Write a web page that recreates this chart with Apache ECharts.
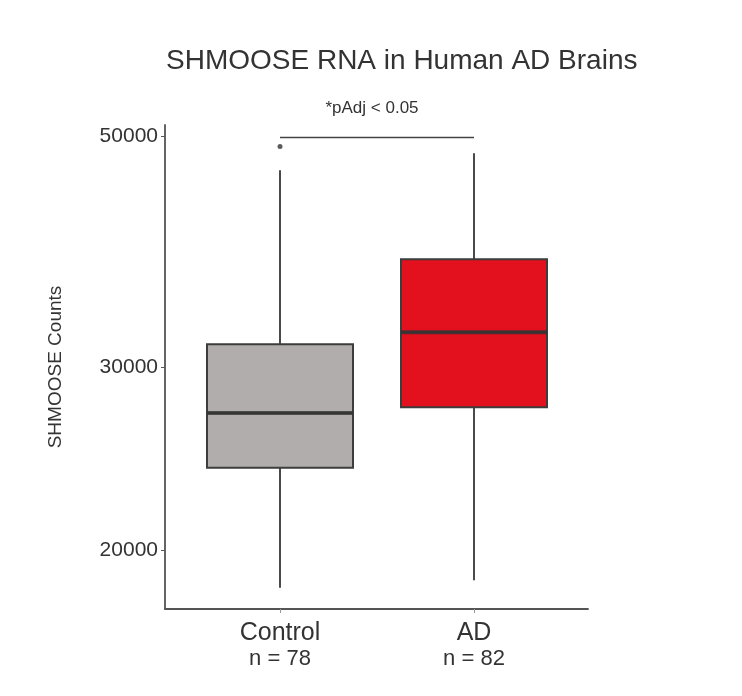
<!DOCTYPE html>
<html>
<head>
<meta charset="utf-8">
<script src="https://cdn.jsdelivr.net/npm/echarts@6/dist/echarts.min.js"></script>
<style>
html,body{margin:0;padding:0;background:#fff;}
#chart{width:742px;height:696px;}
</style>
</head>
<body>
<div id="chart"></div>
<script>
// ---- data ----
var categories = ['Control', 'AD'];
var groupSizes = [78, 82];
// [lower whisker, Q1, median, Q3, upper whisker]
var controlBox = [18400, 24000, 27100, 31550, 46400];
var adBox = [18700, 27450, 32400, 38100, 48200];
var outliers = [['Control', 48900]];
var yTicks = [20000, 30000, 50000];
var yRange = [17550, 51300];
var bracketLevel = 49900;
var sigText = '*pAdj < 0.05';
var boxColors = ['#b0adac', '#e2111d'];

var FONT = 'Liberation Sans, Arial, Helvetica, sans-serif';
var chart = echarts.init(document.getElementById('chart'), null, {renderer: 'canvas'});

var boxes = [controlBox, adBox];
var medians = boxes.map(function (b) { return b[2]; });

var option = {
  backgroundColor: '#ffffff',
  animation: false,
  title: {
    text: 'SHMOOSE RNA in Human AD Brains',
    left: 161, top: 42,
    textStyle: {fontFamily: FONT, fontSize: 28, fontWeight: 'normal', color: '#333333'}
  },
  graphic: [{
    type: 'text', x: 372, y: 108,
    style: {text: sigText, font: '17px ' + FONT, fill: '#333333', align: 'center', verticalAlign: 'middle'}
  }],
  grid: [
    {left: 165, right: 154, top: 125, bottom: 87, containLabel: false},
    {left: 183, right: 171, top: 125, bottom: 87, containLabel: false}
  ],
  xAxis: [
    {
      gridIndex: 0, type: 'value', min: 0.4, max: 2.6,
      axisLine: {show: true, lineStyle: {color: '#555555', width: 1.8}},
      axisTick: {show: false}, axisLabel: {show: false}, splitLine: {show: false}
    },
    {
      gridIndex: 1, type: 'category', data: categories,
      axisLine: {show: false},
      axisTick: {show: true, alignWithLabel: true, length: 4, lineStyle: {color: '#999'}},
      axisLabel: {
        margin: 11,
        formatter: function (v, i) { return '{a|' + v + '}\n{b|n = ' + groupSizes[i] + '}'; },
        rich: {
          a: {fontFamily: FONT, fontSize: 25, color: '#333333', lineHeight: 26},
          b: {fontFamily: FONT, fontSize: 22, color: '#333333', lineHeight: 25}
        }
      },
      splitLine: {show: false}
    }
  ],
  yAxis: [
    {
      gridIndex: 0, type: 'log', logBase: 10, min: yRange[0], max: yRange[1],
      name: 'SHMOOSE Counts', nameLocation: 'middle', nameGap: 100, nameRotate: 90,
      nameTextStyle: {fontFamily: FONT, fontSize: 19, color: '#333333'},
      axisLine: {show: true, lineStyle: {color: '#555555', width: 1.8}},
      axisTick: {show: true, length: 4, customValues: yTicks, lineStyle: {color: '#555555'}},
      axisLabel: {
        customValues: yTicks, margin: 7,
        fontFamily: FONT, fontSize: 21, color: '#333333',
        formatter: function (v) { return String(Math.round(v)); }
      },
      splitLine: {show: false}
    },
    {
      gridIndex: 1, type: 'log', logBase: 10, min: yRange[0], max: yRange[1],
      show: false, splitLine: {show: false}
    }
  ],
  series: [
    {
      // whiskers (no end caps, as in ggplot)
      type: 'custom', xAxisIndex: 1, yAxisIndex: 1,
      data: categories.map(function (c, i) { return [i, boxes[i][0], boxes[i][1], boxes[i][3], boxes[i][4]]; }),
      encode: {x: 0, y: [1, 4]},
      renderItem: function (params, api) {
        var x = api.value(0);
        var lo = api.coord([x, api.value(1)]);
        var q1 = api.coord([x, api.value(2)]);
        var q3 = api.coord([x, api.value(3)]);
        var hi = api.coord([x, api.value(4)]);
        var st = {stroke: '#4a4a4a', lineWidth: 2};
        return {
          type: 'group',
          children: [
            {type: 'line', shape: {x1: lo[0], y1: lo[1], x2: q1[0], y2: q1[1]}, style: st},
            {type: 'line', shape: {x1: q3[0], y1: q3[1], x2: hi[0], y2: hi[1]}, style: st}
          ]
        };
      },
      z: 1
    },
    {
      // boxes only: whiskers collapsed onto the box edges
      type: 'boxplot', xAxisIndex: 1, yAxisIndex: 1,
      boxWidth: [146, 146],
      data: boxes.map(function (b, i) {
        return {value: [b[1], b[1], b[2], b[3], b[3]], itemStyle: {color: boxColors[i]}};
      }),
      itemStyle: {borderColor: '#3d3d3d', borderWidth: 2},
      z: 2
    },
    {
      type: 'scatter', xAxisIndex: 1, yAxisIndex: 1,
      symbol: 'rect', symbolSize: [146, 4],
      data: categories.map(function (c, i) { return [c, medians[i]]; }),
      itemStyle: {color: '#333333'}, z: 5
    },
    {
      type: 'scatter', xAxisIndex: 1, yAxisIndex: 1,
      symbol: 'circle', symbolSize: 5,
      data: outliers, itemStyle: {color: '#333333'}
    },
    {
      type: 'line', xAxisIndex: 1, yAxisIndex: 1,
      data: categories.map(function (c) { return [c, bracketLevel]; }),
      symbol: 'none', lineStyle: {color: '#444444', width: 1.5}
    }
  ]
};
chart.setOption(option);
</script>
</body>
</html>
